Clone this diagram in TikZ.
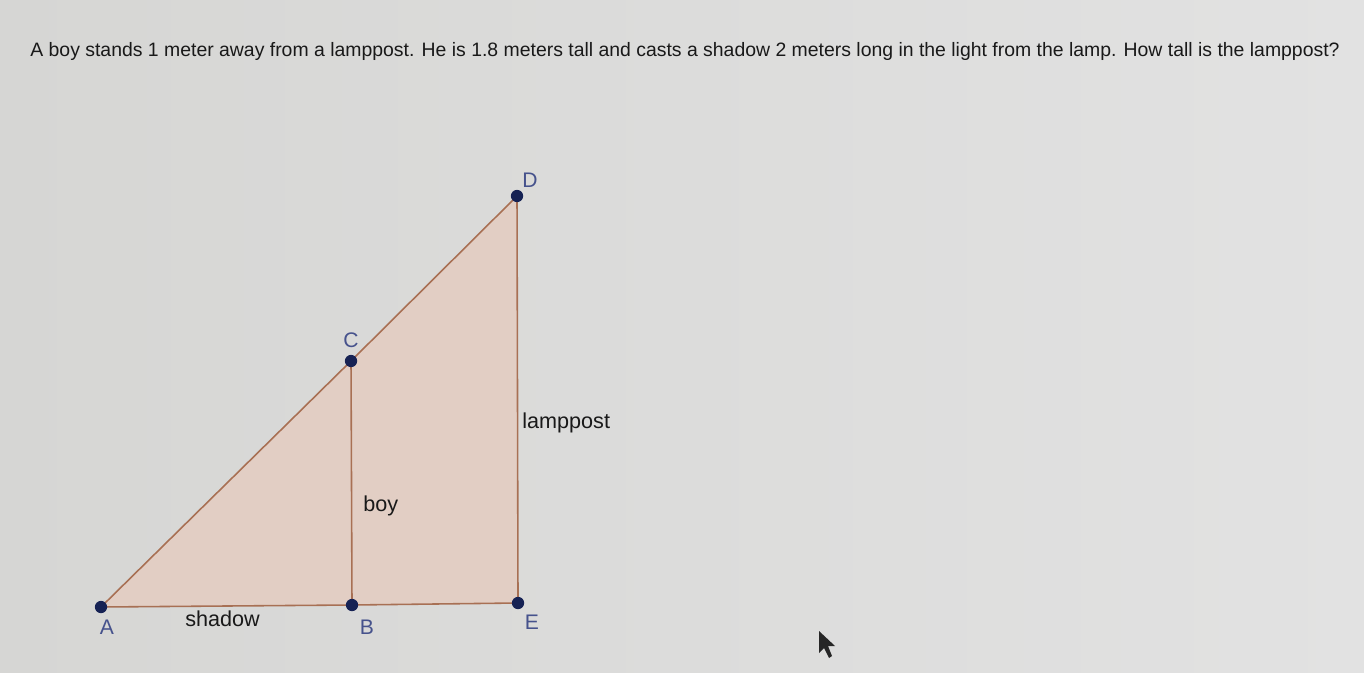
\documentclass[tikz,border=0pt]{standalone}
\usepackage{fontspec}
\setmainfont{Liberation Sans}
\definecolor{bgl}{RGB}{214,214,212}
\definecolor{bgr}{RGB}{226,226,226}
\definecolor{fillc}{RGB}{226,206,196}
\definecolor{linec}{RGB}{168,112,84}
\definecolor{ptc}{RGB}{22,34,84}
\definecolor{lblc}{RGB}{70,82,140}
\definecolor{txtc}{RGB}{25,25,25}
\tikzset{
  pt/.style={circle,fill=ptc,inner sep=0pt,minimum size=7pt},
  seg/.style={draw=linec,line width=0.9pt},
  ptlabel/.style={text=lblc,font=\fontsize{12}{13}\selectfont,inner sep=0pt},
  word/.style={text=txtc,font=\fontsize{12.3}{14}\selectfont,inner sep=0pt,anchor=base west}
}
\begin{document}
\begin{tikzpicture}[x=0.02cm,y=-0.02cm]
\useasboundingbox (0,0) rectangle (1364,672);
\shade[left color=bgl,right color=bgr] (0,0) rectangle (1364,672);
\node[anchor=base west,inner sep=0pt,text=txtc,font=\fontsize{11.05}{12}\selectfont] (q) at (30,57)
 {A boy stands 1 meter away from a lamppost. He is 1.8 meters tall and casts a shadow 2 meters long in the light from the lamp. How tall is the lamppost?};
% points
\coordinate (A) at (101,607);
\coordinate (B) at (352,605);
\coordinate (C) at (351,361);
\coordinate (D) at (517,196);
\coordinate (E) at (518,603);
\fill[fillc] (A) -- (D) -- (E) -- cycle;
\draw[seg] (A) -- (C) -- (D) -- (E) -- (B) -- (A);
\draw[seg] (B) -- (C);
\node[pt] (pA) at (A) {};
\node[pt] (pB) at (B) {};
\node[pt] (pC) at (C) {};
\node[pt] (pD) at (D) {};
\node[pt] (pE) at (E) {};
\node[ptlabel] (lA) at (107,627) {A};
\node[ptlabel] (lB) at (367,627) {B};
\node[ptlabel] (lC) at (351,340) {C};
\node[ptlabel] (lD) at (530,180) {D};
\node[ptlabel] (lE) at (532,622) {E};
\node[word] (wl) at (522,428) {lamppost};
\node[word] (wb) at (363,511) {boy};
\node[word] (ws) at (185,626) {shadow};
% mouse cursor
\fill[black!85] (819,631) -- (819,653) -- (824,648) -- (829,658) -- (832,656) -- (828,646) -- (835,646) -- cycle;
\end{tikzpicture}
\end{document}
